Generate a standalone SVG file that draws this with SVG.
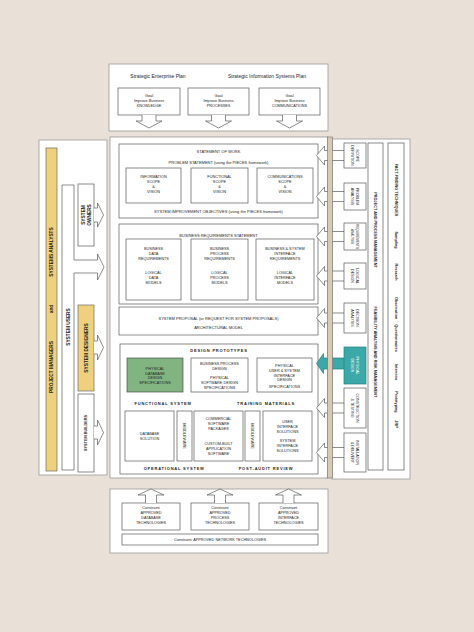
<svg xmlns="http://www.w3.org/2000/svg" width="474" height="632" viewBox="0 0 474 632">
<style>
.bg{fill:#e9e1d8}
.pn{fill:#fff;stroke:#9a9a9a;stroke-width:.8}
.bx{fill:#fff;stroke:#5a5a5a;stroke-width:.7}
.yl{fill:#efd07f;stroke:#6a6a6a;stroke-width:.7}
.gr{fill:#82b482;stroke:#4f4f4f;stroke-width:.7}
.tl{fill:#3aa9a8;stroke:#2b7f7e;stroke-width:.7}
.rail{fill:#d8cab2;stroke:#6f6f6f;stroke-width:.6}
.ar{fill:#fff;stroke:#5a5a5a;stroke-width:.7;stroke-linejoin:miter}
.art{fill:#3aa9a8;stroke:#2b7f7e;stroke-width:.7}
text{font-family:"Liberation Sans",Arial,sans-serif;fill:#1e1e1e;text-anchor:middle;font-size:3.8px}
.m{font-size:5px}
.hd{font-size:4px}
.b{font-weight:bold}
.sp{font-size:4px;letter-spacing:.8px;font-weight:bold}
.lc{font-size:4.8px;font-weight:bold}
.rc{font-size:3.8px;font-weight:bold}
.ph{font-size:3.6px}
</style>
<rect class="bg" x="0" y="0" width="474" height="632"/>

<g id="strategic-plans">
<rect class="pn" x="109" y="64" width="219" height="67"/>
<text class="m" x="158" y="77.5">Strategic Enterprise Plan</text>
<text class="m" x="267" y="77.5">Strategic Information Systems Plan</text>
</g>
<g id="goal-knowledge">
<rect class="bx" x="118" y="88" width="62" height="27"/>
<text x="149" y="96.5">Goal</text><text x="149" y="101.5">Improve Business</text><text x="149" y="107">KNOWLEDGE</text>
</g>
<g id="goal-processes">
<rect class="bx" x="188" y="88" width="61" height="27"/>
<text x="218.5" y="96.5">Goal</text><text x="218.5" y="101.5">Improve Business</text><text x="218.5" y="107">PROCESSES</text>
</g>
<g id="goal-communications">
<rect class="bx" x="259" y="88" width="61" height="27"/>
<text x="289.5" y="96.5">Goal</text><text x="289.5" y="101.5">Improve Business</text><text x="289.5" y="107">COMMUNICATIONS</text>
</g>

<g id="left-frame">
<rect class="pn" x="39" y="140" width="68" height="335"/>
</g>
<g id="project-managers">
<rect class="yl" x="46" y="148" width="11" height="323"/>
<text class="lc" transform="translate(53.2,367) rotate(-90)">PROJECT MANAGERS</text>
<text class="lc" transform="translate(53.2,309) rotate(-90)">and</text>
<text class="lc" transform="translate(53.2,252) rotate(-90)">SYSTEMS ANALYSTS</text>
</g>
<g id="system-users">
<path class="ar" d="M62,185 H74 V260 H97.5 V254 L104,267 L97.5,280 V273 H74 V470 H62 Z"/>
<text class="lc" transform="translate(69.7,327) rotate(-90)">SYSTEM USERS</text>
</g>
<g id="system-owners">
<rect class="bx" x="78" y="184" width="16" height="62"/>
<text class="lc" transform="translate(85.2,215) rotate(-90)">SYSTEM</text>
<text class="lc" transform="translate(90.6,215) rotate(-90)">OWNERS</text>
</g>
<g id="system-designers">
<rect class="yl" x="78" y="305" width="16" height="86"/>
<text class="lc" transform="translate(87.7,348) rotate(-90)">SYSTEM DESIGNERS</text>
</g>
<g id="system-builders">
<rect class="bx" x="78" y="394" width="16" height="78"/>
<text class="rc" transform="translate(87.3,433) rotate(-90)">SYSTEM BUILDERS</text>
</g>

<g id="main-panel">
<rect class="pn" x="110" y="137" width="218" height="341"/>
</g>
<g id="statement-of-work">
<rect class="bx" x="119" y="144" width="199" height="74"/>
<text class="hd" x="218.5" y="152.5">STATEMENT OF WORK</text>
<text class="hd" x="218.5" y="163.5">PROBLEM STATEMENT (using the PIECES framework)</text>
<text class="hd" x="218.5" y="212.5">SYSTEM IMPROVEMENT OBJECTIVES (using the PIECES framework)</text>
</g>
<g id="information-scope">
<rect class="bx" x="126" y="168" width="55" height="35"/>
<text x="153.5" y="178.3">INFORMATION</text><text x="153.5" y="183.3">SCOPE</text><text x="153.5" y="188.3">&amp;</text><text x="153.5" y="193.3">VISION</text>
</g>
<g id="functional-scope">
<rect class="bx" x="191" y="168" width="57" height="35"/>
<text x="219.5" y="178.3">FUNCTIONAL</text><text x="219.5" y="183.3">SCOPE</text><text x="219.5" y="188.3">&amp;</text><text x="219.5" y="193.3">VISION</text>
</g>
<g id="communications-scope">
<rect class="bx" x="257" y="168" width="56" height="35"/>
<text x="285" y="178.3">COMMUNICATIONS</text><text x="285" y="183.3">SCOPE</text><text x="285" y="188.3">&amp;</text><text x="285" y="193.3">VISION</text>
</g>

<g id="business-requirements">
<rect class="bx" x="119" y="224" width="199" height="80"/>
<text class="hd" x="218.5" y="236.5">BUSINESS REQUIREMENTS STATEMENT</text>
</g>
<g id="data-requirements">
<rect class="bx" x="126" y="239" width="55" height="61"/>
<text x="153.5" y="250.3">BUSINESS</text><text x="153.5" y="255">DATA</text><text x="153.5" y="259.7">REQUIREMENTS</text>
<text x="153.5" y="274.3">LOGICAL</text><text x="153.5" y="279">DATA</text><text x="153.5" y="283.7">MODELS</text>
</g>
<g id="process-requirements">
<rect class="bx" x="191" y="239" width="57" height="61"/>
<text x="219.5" y="250.3">BUSINESS</text><text x="219.5" y="255">PROCESS</text><text x="219.5" y="259.7">REQUIREMENTS</text>
<text x="219.5" y="274.3">LOGICAL</text><text x="219.5" y="279">PROCESS</text><text x="219.5" y="283.7">MODELS</text>
</g>
<g id="interface-requirements">
<rect class="bx" x="256" y="239" width="58" height="61"/>
<text x="285" y="250.3">BUSINESS &amp; SYSTEM</text><text x="285" y="255">INTERFACE</text><text x="285" y="259.7">REQUIREMENTS</text>
<text x="285" y="274.3">LOGICAL</text><text x="285" y="279">INTERFACE</text><text x="285" y="283.7">MODELS</text>
</g>

<g id="system-proposal">
<rect class="bx" x="119" y="307" width="199" height="28"/>
<text class="hd" x="218.5" y="320.3">SYSTEM PROPOSAL  (or  REQUEST FOR SYSTEM PROPOSALS)</text>
<text class="hd" x="218.5" y="329.3">ARCHITECTURAL MODEL</text>
</g>

<g id="design-prototypes">
<rect class="bx" x="120" y="344" width="198" height="130"/>
<text class="sp" x="219" y="351.5">DESIGN PROTOTYPES</text>
<text class="sp" x="163" y="404.5">FUNCTIONAL SYSTEM</text>
<text class="sp" x="266" y="404.5">TRAINING MATERIALS</text>
<text class="sp" x="174" y="469.5">OPERATIONAL SYSTEM</text>
<text class="sp" x="266" y="469.5">POST-AUDIT REVIEW</text>
</g>
<g id="database-design">
<rect class="gr" x="127" y="358" width="56" height="34"/>
<text x="155" y="370.2">PHYSICAL</text><text x="155" y="374.7">DATABASE</text><text x="155" y="379.2">DESIGN</text><text x="155" y="383.7">SPECIFICATIONS</text>
</g>
<g id="software-design">
<rect class="bx" x="191" y="358" width="57" height="34"/>
<text x="219.5" y="365.3">BUSINESS PROCESS</text><text x="219.5" y="369.6">DESIGN</text>
<text x="219.5" y="379.3">PHYSICAL</text><text x="219.5" y="384">SOFTWARE DESIGN</text><text x="219.5" y="388.7">SPECIFICATIONS</text>
</g>
<g id="interface-design">
<rect class="bx" x="257" y="358" width="55" height="34"/>
<text x="284.5" y="367.3">PHYSICAL</text><text x="284.5" y="372.3">USER &amp; SYSTEM</text><text x="284.5" y="376.8">INTERFACE</text><text x="284.5" y="381.3">DESIGN</text><text x="284.5" y="387.5">SPECIFICATIONS</text>
</g>
<g id="database-solution">
<rect class="bx" x="125" y="411" width="49" height="50"/>
<text x="149.5" y="435.3">DATABASE</text><text x="149.5" y="440">SOLUTION</text>
</g>
<g id="middleware-1">
<rect class="bx" x="177" y="411" width="15" height="50"/>
<text transform="translate(183.2,436) rotate(90)">MIDDLEWARE</text>
</g>
<g id="software-solution">
<rect class="bx" x="194" y="411" width="49" height="50"/>
<text x="218.5" y="420.3">COMMERCIAL</text><text x="218.5" y="425">SOFTWARE</text><text x="218.5" y="429.7">PACKAGES</text>
<text x="218.5" y="445.3">CUSTOM-BUILT</text><text x="218.5" y="450">APPLICATION</text><text x="218.5" y="454.7">SOFTWARE</text>
</g>
<g id="middleware-2">
<rect class="bx" x="245" y="411" width="15" height="50"/>
<text transform="translate(251.2,436) rotate(90)">MIDDLEWARE</text>
</g>
<g id="interface-solutions">
<rect class="bx" x="263" y="411" width="49" height="50"/>
<text x="287.5" y="423.3">USER</text><text x="287.5" y="428">INTERFACE</text><text x="287.5" y="432.7">SOLUTIONS</text>
<text x="287.5" y="442.3">SYSTEM</text><text x="287.5" y="447">INTERFACE</text><text x="287.5" y="451.7">SOLUTIONS</text>
</g>

<g id="constraints">
<rect class="pn" x="110" y="489" width="218" height="64"/>
</g>
<g id="db-technologies">
<rect class="bx" x="122" y="503" width="58" height="27"/>
<text x="151" y="509.3">Constraint</text><text x="151" y="514.3">APPROVED</text><text x="151" y="519.3">DATABASE</text><text x="151" y="524.3">TECHNOLOGIES</text>
</g>
<g id="process-technologies">
<rect class="bx" x="191" y="503" width="58" height="27"/>
<text x="220" y="509.3">Constraint</text><text x="220" y="514.3">APPROVED</text><text x="220" y="519.3">PROCESS</text><text x="220" y="524.3">TECHNOLOGIES</text>
</g>
<g id="interface-technologies">
<rect class="bx" x="259" y="503" width="59" height="27"/>
<text x="288.5" y="509.3">Constraint</text><text x="288.5" y="514.3">APPROVED</text><text x="288.5" y="519.3">INTERFACE</text><text x="288.5" y="524.3">TECHNOLOGIES</text>
</g>
<g id="network-technologies">
<rect class="bx" x="122" y="534" width="196" height="11"/>
<text x="220" y="541">Constraint: APPROVED NETWORK TECHNOLOGIES</text>
</g>

<g id="right-frame">
<rect class="pn" x="332" y="139" width="78" height="340"/>
</g>
<g id="connectors">
<path class="ar" d="M142,115 V121 H136 L149,128 L162,121 H156 V115"/>
<path class="ar" d="M211.5,115 V121 H205.5 L218.5,128 L231.5,121 H225.5 V115"/>
<path class="ar" d="M282.5,115 V121 H276.5 L289.5,128 L302.5,121 H296.5 V115"/>
<path class="ar" d="M145.5,503 V495 H138 L151,489 L164,495 H156.5 V503"/>
<path class="ar" d="M214.5,503 V495 H207 L220,489 L233,495 H225.5 V503"/>
<path class="ar" d="M283,503 V495 H275.5 L288.5,489 L301.5,495 H294 V503"/>
<path class="ar" d="M94,208 H97.5 V203 L103.5,215 L97.5,227 V222 H94"/>
<path class="ar" d="M94,341 H97.5 V335 L103.5,347.5 L97.5,360 V354 H94"/>
<path class="ar" d="M94,426 H97.5 V420 L103.5,432.5 L97.5,445 V439 H94"/>
<path class="ar" d="M344,150.5 H324.5 V146 L316.5,155.5 L324.5,165 V160.5 H344"/>
<path class="ar" d="M344,191.5 H324.5 V187 L316.5,196.5 L324.5,206 V201.5 H344"/>
<path class="ar" d="M344,231.5 H324.5 V227 L316.5,236.5 L324.5,246 V241.5 H344"/>
<path class="ar" d="M344,271 H324.5 V266.5 L316.5,276 L324.5,285.5 V281 H344"/>
<path class="ar" d="M344,313 H324.5 V308.5 L316.5,318 L324.5,327.5 V323 H344"/>
<path class="art" d="M344,358 H323.5 V353.5 L316.5,363.5 L323.5,373.5 V369 H344"/>
<path class="ar" d="M344,403 H324.5 V398.5 L316.5,408 L324.5,417.5 V413 H344"/>
<path class="ar" d="M344,447.5 H324.5 V443 L316.5,452.5 L324.5,462 V457.5 H344"/>
<rect class="rail" x="327.5" y="137" width="5" height="341"/>
</g>

<g id="scope-definition">
<rect class="bx" x="344" y="143" width="22" height="25"/>
<text class="ph" transform="translate(355,155.5) rotate(90)"><tspan x="0" y="-1.2">SCOPE</tspan><tspan x="0" y="3.6">DEFINITION</tspan></text>
</g>
<g id="problem-analysis">
<rect class="bx" x="344" y="183" width="22" height="27"/>
<text class="ph" transform="translate(355,196.5) rotate(90)"><tspan x="0" y="-1.2">PROBLEM</tspan><tspan x="0" y="3.6">ANALYSIS</tspan></text>
</g>
<g id="requirements-analysis">
<rect class="bx" x="344" y="223" width="22" height="27"/>
<text class="ph" style="font-size:3.1px" transform="translate(355,236.5) rotate(90)"><tspan x="0" y="-1.2">REQUIREMENTS</tspan><tspan x="0" y="3.6">ANALYSIS</tspan></text>
</g>
<g id="logical-design">
<rect class="bx" x="344" y="263" width="22" height="26"/>
<text class="ph" transform="translate(355,276) rotate(90)"><tspan x="0" y="-1.2">LOGICAL</tspan><tspan x="0" y="3.6">DESIGN</tspan></text>
</g>
<g id="decision-analysis">
<rect class="bx" x="344" y="303" width="22" height="30"/>
<text class="ph" transform="translate(355,318) rotate(90)"><tspan x="0" y="-1.2">DECISION</tspan><tspan x="0" y="3.6">ANALYSIS</tspan></text>
</g>
<g id="physical-design">
<rect class="tl" x="344" y="347" width="22" height="37"/>
<text class="ph" style="fill:#fff" transform="translate(355,365.5) rotate(90)"><tspan x="0" y="-1.2">PHYSICAL</tspan><tspan x="0" y="3.6">DESIGN</tspan></text>
</g>
<g id="construction-testing">
<rect class="bx" x="344" y="388" width="22" height="40"/>
<text class="ph" transform="translate(355,408) rotate(90)"><tspan x="0" y="-1.2">CONSTRUCTION</tspan><tspan x="0" y="3.6">&amp; TESTING</tspan></text>
</g>
<g id="installation-delivery">
<rect class="bx" x="344" y="433" width="22" height="39"/>
<text class="ph" transform="translate(355,452.5) rotate(90)"><tspan x="0" y="-1.2">INSTALLATION</tspan><tspan x="0" y="3.6">&amp; DELIVERY</tspan></text>
</g>
<g id="management">
<rect class="bx" x="368" y="143" width="15" height="327"/>
<text class="rc" transform="translate(374.2,230) rotate(90)">PROJECT AND PROCESS MANAGEMENT</text>
<text class="rc" transform="translate(374.2,352) rotate(90)">FEASIBILITY ANALYSIS AND RISK MANAGEMENT</text>
</g>
<g id="fact-finding">
<rect class="bx" x="388" y="143" width="16" height="327"/>
<text class="rc" transform="translate(394.7,190) rotate(90)">FACT-FINDING TECHNIQUES</text>
<text class="rc" transform="translate(394.7,240) rotate(90)">Sampling</text>
<text class="rc" transform="translate(394.7,272) rotate(90)">Research</text>
<text class="rc" transform="translate(394.7,308) rotate(90)">Observation</text>
<text class="rc" transform="translate(394.7,338) rotate(90)">Questionnaires</text>
<text class="rc" transform="translate(394.7,372) rotate(90)">Interview</text>
<text class="rc" transform="translate(394.7,402) rotate(90)">Prototyping</text>
<text class="rc" transform="translate(394.7,424) rotate(90)">JRP</text>
</g>
</svg>
